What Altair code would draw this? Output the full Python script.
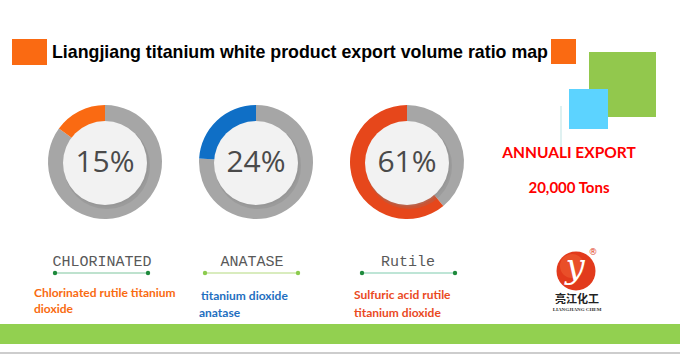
import altair as alt
import pandas as pd

# ---------------- data ----------------
title_text = "Liangjiang titanium white product export volume ratio map"
products = ["CHLORINATED", "ANATASE", "Rutile"]
shares = [15, 24, 61]
share_colors = ["#FA6A12", "#0F6FC6", "#E6471B"]
desc_lines = [
    ["Chlorinated rutile titanium", "dioxide"],
    [" titanium dioxide", "anatase"],
    ["Sulfuric acid rutile", "titanium dioxide"],
]
desc_colors = ["#F96B11", "#1F6FBF", "#EA4A1F"]
export_lines = ["ANNUALI EXPORT", "20,000 Tons"]
logo_cn = "亮江化工"
logo_en = "LIANGJIANG CHEM"

W, H = 680, 354
GRAY = "#A6A6A6"
ONE = alt.Data(values=[{"k": 1}])


def txt(s, x, y, size, color, font, weight="normal", align="center", baseline="middle", **kw):
    return alt.Chart(alt.Data(values=[{"t": s}])).mark_text(
        fontSize=size, color=color, font=font, fontWeight=weight,
        align=align, baseline=baseline, **kw
    ).encode(x=alt.value(x), y=alt.value(y), text="t:N")


def rect(x1, x2, y1, y2, color, **kw):
    return alt.Chart(ONE).mark_rect(color=color, **kw).encode(
        x=alt.value(x1), x2=alt.value(x2), y=alt.value(y1), y2=alt.value(y2))


def rule(x1, x2, y1, y2, color, width):
    return alt.Chart(ONE).mark_rule(color=color, strokeWidth=width).encode(
        x=alt.value(x1), x2=alt.value(x2), y=alt.value(y1), y2=alt.value(y2))


def dot(x, y, r, color, opacity=1.0):
    return alt.Chart(ONE).mark_circle(size=(2 * r) ** 2, color=color, opacity=opacity).encode(
        x=alt.value(x), y=alt.value(y))


layers = []

# header squares and title
layers.append(rect(12, 47, 39, 65, "#FA6A12"))
layers.append(rect(551, 576, 39, 64, "#FA6A12"))
layers.append(txt(title_text, 52, 53, 17.8, "#000000", "Liberation Sans Narrow, Liberation Sans",
                  weight="bold", align="left"))

# decorative squares on the right
layers.append(rect(589, 656, 52, 117, "#92C84D"))
layers.append(rect(569, 608, 89, 129, "#5CD3FF"))
layers.append(rule(561, 561, 106, 147, "#BFE3E3", 1))

# donuts
centers = [105, 256, 407]
cy = 162
for i, (p, s) in enumerate(zip(products, shares)):
    cx = centers[i]
    df = pd.DataFrame({"part": ["rest", "share"], "v": [100 - s, s], "o": [0, 1]})
    arc = alt.Chart(df).mark_arc(innerRadius=40, outerRadius=57).encode(
        x=alt.value(cx), y=alt.value(cy),
        theta=alt.Theta("v:Q", stack=True),
        order=alt.Order("o:Q"),
        color=alt.condition(alt.datum.part == "share", alt.value(share_colors[i]), alt.value(GRAY)),
    )
    layers.append(arc)
    layers.append(dot(cx + 2, cy + 4, 43, "#7A7A7A", 0.25))
    layers.append(dot(cx + 1, cy + 2, 42.5, "#8A8A8A", 0.25))
    layers.append(dot(cx, cy + 1, 42, "#F2F2F2"))
    pct = alt.Chart(df).transform_filter(alt.datum.part == "share").transform_calculate(
        label="datum.v + '%'"
    ).mark_text(fontSize=30, color="#4A4A4A", font="Open Sans", baseline="middle", align="center").encode(
        x=alt.value(cx), y=alt.value(cy + 1), text="label:N")
    layers.append(pct)

# export text
layers.append(txt(export_lines[0], 569, 153, 15.5, "#FF0000", "Lato", weight="bold"))
layers.append(txt(export_lines[1], 569, 188, 15, "#FF0000", "Lato", weight="bold"))

# category labels with underline
label_x = [102, 252, 408]
line_spans = [(55, 148), (205, 298), (362, 455)]
line_cols = [("#A8D8BE", "#1E8A3C"), ("#CDE6A8", "#8CCB4E"), ("#A8DCC8", "#1E8A3C")]
for i, p in enumerate(products):
    layers.append(txt(p, label_x[i], 261, 15, "#595959", "Liberation Mono"))
    a, b = line_spans[i]
    lc, dc = line_cols[i]
    layers.append(rule(a, b, 273, 273, lc, 1.5))
    layers.append(dot(a, 273, 2.2, dc))
    layers.append(dot(b, 273, 2.2, dc))

# descriptions
desc_pos = [((34, 293), (34, 309)), ((201, 296), (199, 313)), ((354, 295), (354, 313))]
for i, lines in enumerate(desc_lines):
    for j, line in enumerate(lines):
        x, y = desc_pos[i][j]
        layers.append(txt(line, x, y, 12, desc_colors[i], "Lato", weight="bold", align="left"))

# logo
layers.append(dot(576, 271, 19.5, "#E23A1C"))
layers.append(dot(572, 266, 12, "#F26A3A", 0.45))
layers.append(txt("y", 575, 268, 34, "#FFFFFF", "DejaVu Serif", fontStyle="italic"))
layers.append(txt("®", 593, 252, 9, "#E23A1C", "DejaVu Sans"))
layers.append(txt(logo_cn, 577, 300, 11, "#222222", "Noto Sans CJK SC", weight="bold"))
layers.append(txt(logo_en, 577, 309, 5, "#333333", "Liberation Serif", weight="bold"))

# bottom band and line
layers.append(rect(0, W, 324, 344, "#92D050"))
layers.append(rule(0, W, 353, 353, "#BDBDBD", 1.5))

chart = alt.layer(*layers).properties(
    width=W, height=H, padding=0, autosize=alt.AutoSizeParams(type="none"),
    background="#FFFFFF",
).configure_view(stroke=None)

chart.save("out.html", embed_options={"renderer": "svg", "actions": False})
